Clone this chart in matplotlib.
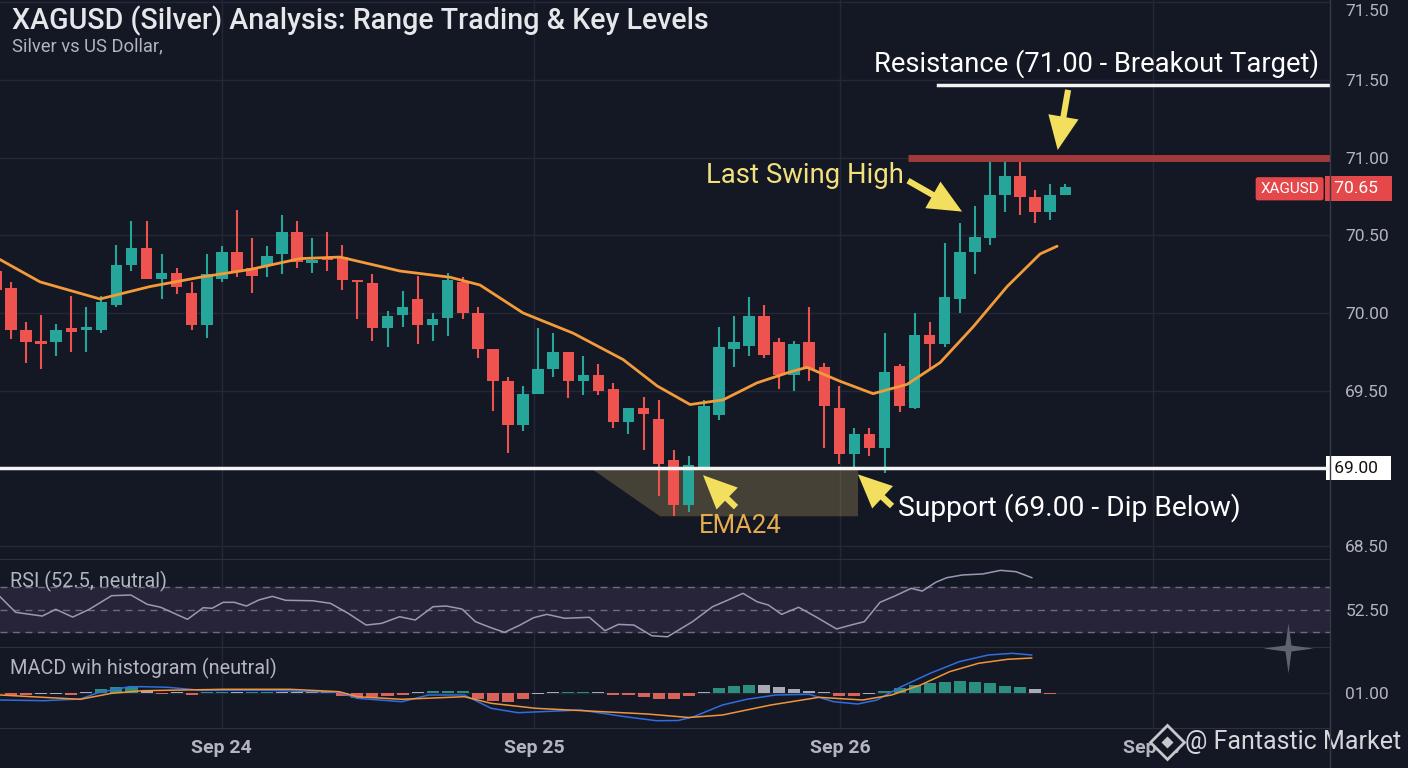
import matplotlib
matplotlib.use("Agg")
import matplotlib.pyplot as plt
import matplotlib.transforms as mtransforms
from matplotlib.patches import Polygon
from matplotlib.path import Path
import numpy as np

plt.rcParams['font.family'] = ['Roboto', 'DejaVu Sans']

# ---- candle data (index -1 .. 70) ----
opens = [70.27, 70.16, 69.89, 69.82, 69.81, 69.90, 69.89, 69.89, 70.05, 70.31,
         70.42, 70.22, 70.26, 70.13, 69.92, 70.22, 70.39, 70.29, 70.30, 70.38,
         70.52, 70.32, 70.36, 70.36, 70.21, 70.19, 69.90, 69.99, 70.09, 69.92,
         69.97, 70.20, 70.00, 69.77, 69.56, 69.28, 69.48, 69.64, 69.75, 69.56,
         69.60, 69.51, 69.30, 69.39, 69.32, 69.05, 68.76, 69.01, 69.34, 69.77,
         69.79, 69.98, 69.81, 69.60, 69.81, 69.65, 69.39, 69.09, 69.22, 69.13,
         69.66, 69.39, 69.86, 69.80, 70.09, 70.39, 70.48, 70.76, 70.88, 70.75,
         70.65, 70.76]
highs = [70.32, 70.20, 69.94, 69.99, 69.93, 70.11, 70.04, 70.11, 70.44, 70.59,
         70.59, 70.38, 70.29, 70.20, 70.38, 70.43, 70.66, 70.48, 70.43, 70.63,
         70.59, 70.48, 70.52, 70.44, 70.21, 70.25, 70.01, 70.14, 70.24, 70.00,
         70.26, 70.23, 70.04, 69.77, 69.59, 69.53, 69.90, 69.87, 69.75, 69.72,
         69.67, 69.55, 69.39, 69.46, 69.44, 69.12, 69.08, 69.44, 69.91, 69.98,
         70.10, 70.05, 69.84, 69.82, 70.04, 69.68, 69.53, 69.26, 69.26, 69.87,
         69.67, 70.00, 69.94, 70.45, 70.58, 70.69, 71.02, 70.99, 70.97, 70.79,
         70.83, 70.83]
lows = [70.10, 69.83, 69.68, 69.64, 69.72, 69.75, 69.75, 69.87, 70.04, 70.27,
        70.22, 70.09, 70.12, 69.89, 69.84, 70.20, 70.23, 70.13, 70.23, 70.25,
        70.29, 70.26, 70.27, 70.15, 69.96, 69.82, 69.78, 69.91, 69.80, 69.82,
        69.85, 69.96, 69.71, 69.37, 69.10, 69.24, 69.48, 69.59, 69.45, 69.47,
        69.47, 69.26, 69.22, 69.12, 68.82, 68.69, 68.72, 69.00, 69.31, 69.65,
        69.72, 69.71, 69.51, 69.50, 69.56, 69.13, 69.03, 69.01, 69.08, 68.97,
        69.36, 69.38, 69.64, 69.78, 70.00, 70.25, 70.44, 70.65, 70.63, 70.58,
        70.60, 70.76]
closes = [70.15, 69.89, 69.81, 69.80, 69.89, 69.88, 69.91, 70.07, 70.31, 70.42,
          70.22, 70.26, 70.17, 69.92, 70.25, 70.39, 70.27, 70.24, 70.37, 70.52,
          70.33, 70.34, 70.34, 70.21, 70.20, 69.90, 69.98, 70.04, 69.92, 69.96,
          70.21, 70.00, 69.77, 69.56, 69.28, 69.48, 69.64, 69.75, 69.56, 69.60,
          69.50, 69.30, 69.39, 69.35, 69.03, 68.76, 69.02, 69.40, 69.78, 69.81,
          69.98, 69.73, 69.60, 69.80, 69.64, 69.40, 69.09, 69.22, 69.13, 69.62,
          69.40, 69.86, 69.80, 70.10, 70.39, 70.49, 70.76, 70.88, 70.75, 70.65,
          70.76, 70.81]
candle_x = np.arange(-1, 71)

# ---- EMA24 ----
ema_x = [-0.73, 1.93, 5.91, 9.23, 12.55, 15.87, 19.19, 21.85, 25.83, 29.15,
         31.14, 34.0, 37.32, 40.64, 42.9, 45.09, 47.28, 49.54, 51.73, 52.86,
         55.05, 57.24, 59.5, 61.69, 63.88, 66.14, 68.33, 69.46]
ema_y = [70.344, 70.20, 70.09, 70.17, 70.23, 70.28, 70.35, 70.36, 70.27, 70.23,
         70.18, 70.00, 69.87, 69.70, 69.53, 69.41, 69.44, 69.55, 69.62, 69.65,
         69.56, 69.48, 69.54, 69.68, 69.91, 70.17, 70.38, 70.43]

# ---- RSI ----
rsi_x = [-0.73, 0.31, 2.08, 2.97, 4.10, 5.2, 6.68, 7.96, 9.05, 9.94, 11.72,
         12.76, 13.35, 14.09, 14.83, 15.63, 16.46, 17.35, 18.24, 20.02, 21.21,
         22.39, 23.58, 24.61, 25.8, 26.84, 28.02, 28.91, 29.95, 30.84, 31.88,
         32.77, 33.8, 34.69, 35.58, 36.77, 38.4, 39.44, 40.33, 41.36, 42.55,
         43.59, 45.25, 46.58, 47.62, 48.6, 49.54, 50.29, 51.17, 52.3, 53.55,
         54.82, 55.77, 56.66, 57.7, 58.73, 59.77, 60.51, 61.4, 62.14, 63.18,
         64.52, 65.7, 66.74, 67.78]
rsi_y = [63.9, 50.0, 46.7, 52.7, 45.8, 52.7, 64.8, 65.4, 57.1, 54.5, 43.8,
         54.1, 53.6, 58.9, 58.9, 55.6, 61.0, 64.2, 60.7, 60.3, 58.0,
         49.1, 38.7, 40.2, 46.1, 43.2, 55.0, 55.6, 52.9, 41.7, 36.3,
         32.2, 38.7, 45.2, 48.2, 44.7, 45.6, 33.7, 39.3, 38.7, 29.2,
         28.3, 41.7, 55.0, 61.0, 66.9, 59.4, 56.5, 48.2, 54.5, 45.2,
         35.2, 38.7, 41.7, 58.9, 64.8, 71.3, 68.9, 76.7, 80.8, 83.2,
         84.1, 87.3, 86.1, 80.8]

# ---- MACD ----
macd_x = [-0.73, 2.23, 4.6, 5.79, 7.87, 8.76, 10.39, 12.61, 17.06, 21.8, 22.98,
          25.95, 27.73, 30.1, 31.88, 33.66, 37.81, 40.77, 42.85, 44.3, 45.32,
          47.24, 48.85, 50.77, 53.0, 54.62, 56.22, 57.5, 59.11, 61.03, 62.96,
          64.89, 66.49, 67.77]
macd_y = [-0.07, -0.077, -0.06, 0.003, 0.063, 0.063, 0.057, 0.027, 0.027, 0.007,
          -0.053, -0.087, -0.02, -0.02, -0.153, -0.197, -0.17, -0.237, -0.277,
          -0.275, -0.237, -0.12, -0.063, -0.02, -0.013, -0.087, -0.11, -0.07,
          0.063, 0.197, 0.313, 0.38, 0.397, 0.38]
signal_x = [-0.73, 4.6, 6.68, 8.76, 14.09, 18.54, 21.8, 22.98, 25.95, 30.1, 31.88,
            34.84, 39.29, 42.25, 45.0, 47.24, 50.45, 53.65, 56.55, 58.47, 60.39,
            62.32, 64.24, 66.17, 67.77]
signal_y = [-0.02, -0.063, -0.003, 0.023, 0.037, 0.037, 0.013, -0.037, -0.063,
            -0.037, -0.103, -0.153, -0.187, -0.21, -0.245, -0.22, -0.12, -0.043,
            -0.07, -0.02, 0.08, 0.213, 0.297, 0.337, 0.35]
hist_x = np.arange(0, 70)
hist_y = [-0.03, -0.02, -0.012, -0.012, -0.02, 0.012, 0.04, 0.06, 0.06, 0.02,
          -0.012, 0.012, -0.02, 0.012, 0.015, 0.012, 0.015, 0.012, 0.012, 0.012,
          0.012, 0.012, -0.03, -0.05, -0.04, -0.03, -0.02, 0.012, 0.02, 0.02,
          0.02, -0.06, -0.08, -0.09, -0.06, -0.012, 0.012, 0.015, 0.015, 0.012,
          -0.02, -0.02, -0.04, -0.06, -0.06, -0.03, 0.012, 0.05, 0.07, 0.08,
          0.08, 0.06, 0.04, 0.025, 0.012, -0.03, -0.03, -0.012, 0.02, 0.05,
          0.08, 0.10, 0.11, 0.12, 0.11, 0.10, 0.07, 0.06, 0.04, -0.012]
hist_kind = ['r', 'r', 'w', 'w', 'r', 'w', 'g', 'g', 'g', 'w',
             'r', 'w', 'r', 'g', 'g', 'w', 'g', 'g', 'w', 'w',
             'w', 'w', 'r', 'r', 'r', 'r', 'r', 'w', 'g', 'g',
             'g', 'r', 'r', 'r', 'r', 'w', 'w', 'g', 'g', 'w',
             'r', 'r', 'r', 'r', 'r', 'r', 'w', 'g', 'g', 'g',
             'w', 'w', 'w', 'w', 'w', 'r', 'r', 'w', 'g', 'g',
             'g', 'g', 'g', 'g', 'g', 'g', 'g', 'g', 'w', 'r']

date_ticks = [14.0, 34.73, 55.05, 75.83]
date_labels = ['Sep 24', 'Sep 25', 'Sep 26', 'Sep 27']
price_ticks = [71.95, 71.5, 71.0, 70.5, 70.0, 69.5, 68.5]
price_labels = ['71.50', '71.50', '71.00', '70.50', '70.00', '69.50', '68.50']
grid_levels = [72.0, 71.5, 71.0, 70.5, 70.0, 69.5, 69.0, 68.5]

support = 69.00
resistance = 71.00
breakout_line = 71.47
last_price = 70.80

# shaded zone under support
zone_x = [38.58, 43.1, 56.24, 56.24]
zone_y = [68.994, 68.69, 68.69, 69.0]

BG = '#141824'
GRID = '#232836'
UP = '#26a69a'
DOWN = '#ef5350'
TXT = '#b2b5be'
YEL = '#f3df5e'

fig = plt.figure(figsize=(14.08, 7.68), dpi=100, facecolor=BG)
W = 1330 / 1408
ax = fig.add_axes([0, 1 - 559 / 768, W, 559 / 768])
ax_rsi = fig.add_axes([0, 1 - 647 / 768, W, 88 / 768], sharex=ax)
ax_macd = fig.add_axes([0, 1 - 728 / 768, W, 81 / 768], sharex=ax)

for a in (ax, ax_rsi, ax_macd):
    a.set_facecolor(BG)
    for s in a.spines.values():
        s.set_visible(False)
    a.yaxis.tick_right()
    a.tick_params(axis='both', length=0, colors=TXT, labelsize=12.5, pad=11)
    for x in date_ticks:
        a.axvline(x, color=GRID, lw=1, zorder=0)

ax.set_xlim(-0.73, 87.58)

# ---- price panel ----
ax.set_ylim(68.415, 72.016)
ax.set_yticks(price_ticks)
ax.set_yticklabels(price_labels)
for p in grid_levels:
    ax.axhline(p, color=GRID, lw=1, zorder=0)
ax.tick_params(axis='x', labelbottom=False)

ax.add_patch(Polygon(list(zip(zone_x, zone_y)), closed=True, fc='#cdb06a',
                     alpha=0.27, ec='none', zorder=1))

colors = [UP if c >= o else DOWN for o, c in zip(opens, closes)]
ax.vlines(candle_x, lows, highs, colors=colors, lw=1.5, zorder=3)
bottoms = [min(o, c) for o, c in zip(opens, closes)]
heights = [max(abs(c - o), 0.012) for o, c in zip(opens, closes)]
ax.bar(candle_x, heights, bottom=bottoms, width=0.76, color=colors, zorder=4)

ax.plot(ema_x, ema_y, color='#f39a3a', lw=2, zorder=5, solid_capstyle='round',
        solid_joinstyle='round')

ax.axhline(support, color='#f4f4f4', lw=2.5, zorder=6)
ax.plot([59.56, 87.58], [resistance, resistance], color='#a13a3a', lw=5, zorder=6,
        solid_capstyle='butt')
ax.plot([61.55, 87.45], [breakout_line, breakout_line], color='#f4f4f4', lw=2.5,
        zorder=6)

ax.text(72.05, 71.605, 'Resistance (71.00 - Breakout Target)', color='white',
        fontsize=19.7, ha='center', va='center', zorder=8)
ax.text(52.72, 70.884, 'Last Swing High', color='#f1e07c', fontsize=19.8,
        ha='center', va='center', zorder=8)
ax.text(48.41, 68.627, 'EMA24', color='#e7ad4c', fontsize=18.5, ha='center',
        va='center', zorder=8)
ax.text(58.9, 68.743, 'Support (69.00 - Dip Below)', color='white', fontsize=20.3,
        ha='left', va='center', zorder=8)

arrow = dict(arrowstyle='simple,head_length=1.1,head_width=1.0,tail_width=0.2',
             color=YEL, lw=0, mutation_scale=22, shrinkA=0, shrinkB=0)
for (x0, y0), (x1, y1) in [((70.19, 71.437), (69.5, 71.05)),
                           ((59.56, 70.852), (63.15, 70.653)),
                           ((48.14, 68.749), (45.95, 68.955)),
                           ((58.5, 68.756), (56.24, 68.96))]:
    ax.annotate('', xy=(x1, y1), xytext=(x0, y0), arrowprops=arrow, zorder=9)

ax.text(84.9, last_price, 'XAGUSD', color='white', fontsize=11, ha='center',
        va='center', zorder=8,
        bbox=dict(boxstyle='round,pad=0.3,rounding_size=0.15', fc='#e5484a', ec='none'))
bt = mtransforms.blended_transform_factory(ax.transAxes, ax.transData)
ax.text(1.0, last_price, ' 70.65  ', transform=bt, color='white', fontsize=12.5,
        ha='left', va='center', clip_on=False,
        bbox=dict(boxstyle='square,pad=0.3', fc='#e5484a', ec='none'))
ax.text(1.0, support, ' 69.00  ', transform=bt, color='#111111', fontsize=12.5,
        ha='left', va='center', clip_on=False,
        bbox=dict(boxstyle='square,pad=0.25', fc='white', ec='none'))

# ---- RSI panel ----
ax_rsi.set_ylim(19.2, 97.4)
ax_rsi.axhspan(32.5, 72.5, color='#272339', zorder=0)
for lvl in (32.5, 52.5, 72.5):
    ax_rsi.axhline(lvl, color='#6a6d7a', lw=1, ls=(0, (5, 4)), zorder=1)
ax_rsi.plot(rsi_x, rsi_y, color='#9b98b3', lw=1.1, zorder=3)
ax_rsi.set_yticks([52.5])
ax_rsi.set_yticklabels(['52.50'])
ax_rsi.tick_params(axis='x', labelbottom=False)
ax_rsi.spines['top'].set_visible(True)
ax_rsi.spines['top'].set_color('#2c303c')
ax_rsi.text(0.0075, 0.75, 'RSI (52.5, neutral)', transform=ax_rsi.transAxes,
            color=TXT, fontsize=14.3, va='center')

# ---- MACD panel ----
ax_macd.set_ylim(-0.35, 0.46)
ax_macd.axhline(0, color=GRID, lw=1, zorder=0)
hist_col = {'r': '#ef6a5f', 'g': '#2f9c89', 'w': '#b9bcc7'}
ax_macd.bar(hist_x, hist_y, width=0.8, color=[hist_col[k] for k in hist_kind],
            alpha=0.9, zorder=2)
ax_macd.plot(macd_x, macd_y, color='#2f6ee0', lw=1.1, zorder=3)
ax_macd.plot(signal_x, signal_y, color='#f0953a', lw=1.1, zorder=3)
ax_macd.set_yticks([0])
ax_macd.set_yticklabels(['01.00'])
ax_macd.set_xticks(date_ticks)
ax_macd.set_xticklabels(date_labels, fontweight='bold', fontsize=14)
ax_macd.tick_params(axis='x', pad=8)
ax_macd.spines['top'].set_visible(True)
ax_macd.spines['top'].set_color('#2c303c')
ax_macd.spines['bottom'].set_visible(True)
ax_macd.spines['bottom'].set_color('#2c303c')
ax_macd.text(0.0075, 0.74, 'MACD wih histogram (neutral)', transform=ax_macd.transAxes,
             color=TXT, fontsize=14.3, va='center')

# ---- figure decorations ----
fig.add_artist(plt.Line2D([W, W], [0, 1], color='#363a46', lw=1))
fig.text(12 / 1408, 1 - 21 / 768, 'XAGUSD (Silver) Analysis: Range Trading & Key Levels',
         color='#e6e7ea', fontsize=20.6, fontweight='medium', va='center')
fig.text(12 / 1408, 1 - 46 / 768, 'Silver vs US Dollar,', color=TXT, fontsize=13.2,
         va='center')

deco = fig.add_axes([0, 0, 1, 1], facecolor='none')
deco.set_xlim(0, 1)
deco.set_ylim(0, 1)
deco.axis('off')
star = Path([(0, 1), (0.12, 0.12), (1, 0), (0.12, -0.12), (0, -1), (-0.12, -0.12),
             (-1, 0), (-0.12, 0.12), (0, 1)])
deco.plot([1288 / 1408], [1 - 648 / 768], marker=star, ms=36, color='#5f6370',
          mec='none')
deco.plot([1167 / 1408], [1 - 742 / 768], marker='D', ms=17, color=BG, mec='#c8c8cc',
          mew=2)
deco.plot([1167 / 1408], [1 - 742 / 768], marker='D', ms=6, color='#c8c8cc', mec='none')
deco.text(1185 / 1408, 1 - 742 / 768, '@ Fantastic Market', color='#d6d7db',
          fontsize=18, va='center', ha='left')

fig.savefig('out.png', dpi=100, facecolor=BG)
